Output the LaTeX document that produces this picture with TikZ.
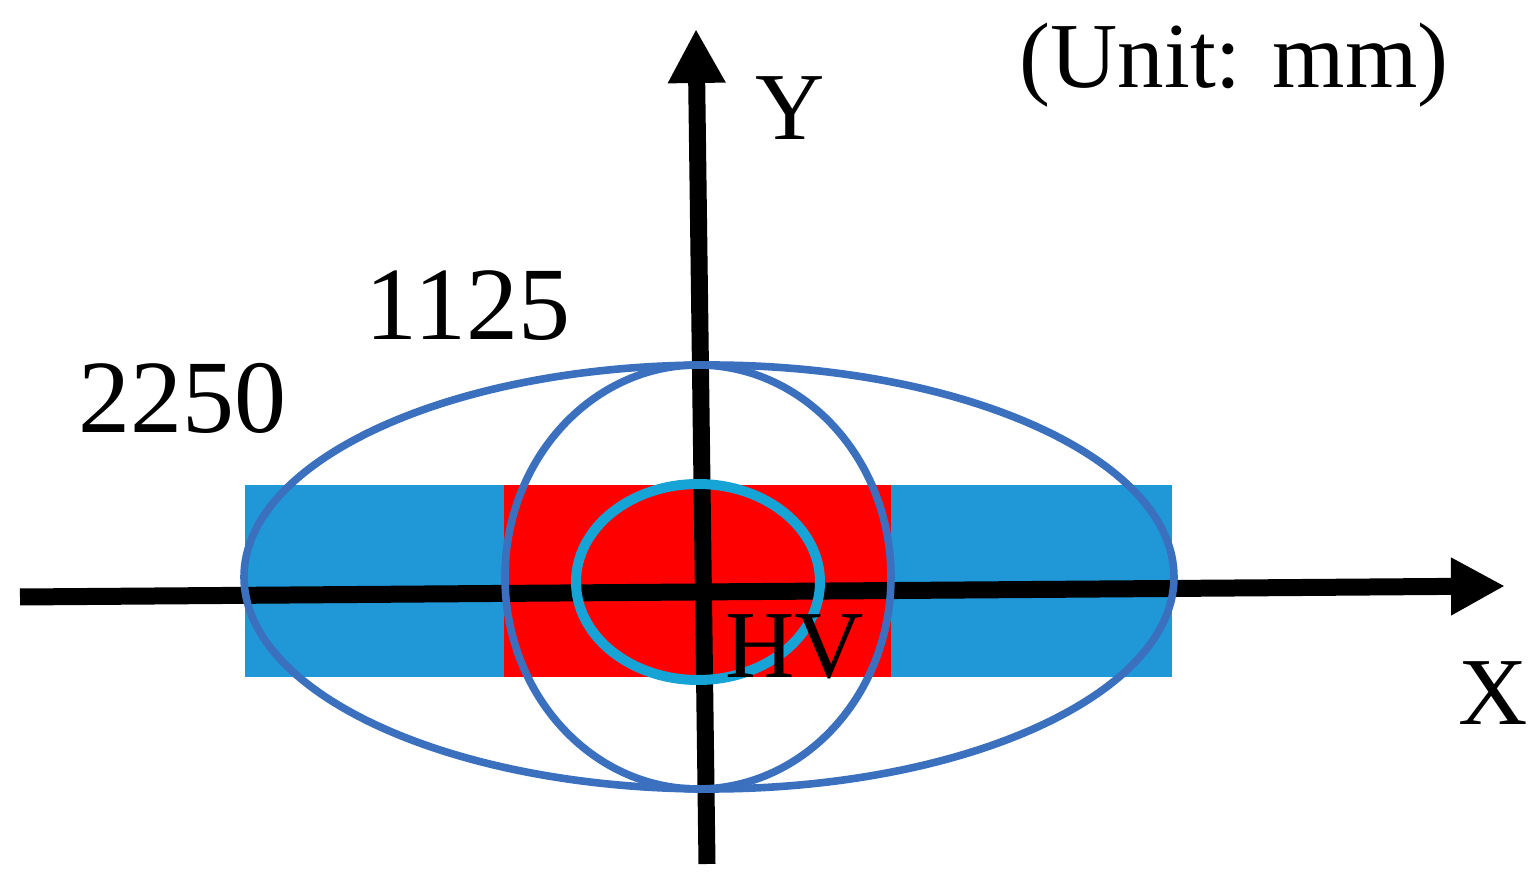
\documentclass[tikz,border=0pt]{standalone}
\usepackage{fontspec}
\setmainfont{Liberation Serif}
\usetikzlibrary{arrows.meta}
\definecolor{ellblue}{RGB}{58,112,190}
\definecolor{rectblue}{RGB}{32,152,216}
\definecolor{cyanring}{RGB}{22,164,214}
\definecolor{hvred}{RGB}{255,0,0}
\tikzset{
  axisline/.style={line width=8.5pt, black, -{Triangle[length=27pt,width=27pt]}},
  ring/.style={line width=3.8pt, ellblue},
  lbl/.style={inner sep=0pt, anchor=base, font=\fontsize{48}{50}\selectfont},
  unitlbl/.style={inner sep=0pt, anchor=base, font=\fontsize{46.5}{50}\selectfont},
  numlbl/.style={inner sep=0pt, anchor=base, font=\fontsize{52}{54}\selectfont},
}
\begin{document}
\begin{tikzpicture}[x=0.5pt,y=-0.5pt]
\useasboundingbox (0,0) rectangle (1538,881);
% rectangles
\fill[rectblue] (245,485) rectangle (1172,677);
\fill[hvred] (504,485) rectangle (891,677);
% axes
\coordinate (xs) at (20,597);
\coordinate (xe) at (1505,586);
\coordinate (ys) at (707,864);
\coordinate (ye) at (696,29);
\draw[axisline] (xs) -- (xe);
\draw[axisline] (ys) -- (ye);
% ellipses
\draw[ring] (709,577) ellipse [x radius=232.5pt, y radius=106pt];
\draw[ring] (698,577) ellipse [x radius=96.5pt, y radius=106pt];
\draw[line width=5pt, cyanring] (698,582) ellipse [x radius=61pt, y radius=49pt];
% labels
\node[unitlbl] (unit) at (1234,88) {(Unit: mm)};
\node[lbl] (ylab) at (790,140) {Y};
\node[lbl] (xlab) at (1493,725) {X};
\node[lbl] (hv) at (795,678) {HV};
\node[numlbl] (n1125) at (468,340) {1125};
\node[numlbl] (n2250) at (182,433) {2250};
\end{tikzpicture}
\end{document}
